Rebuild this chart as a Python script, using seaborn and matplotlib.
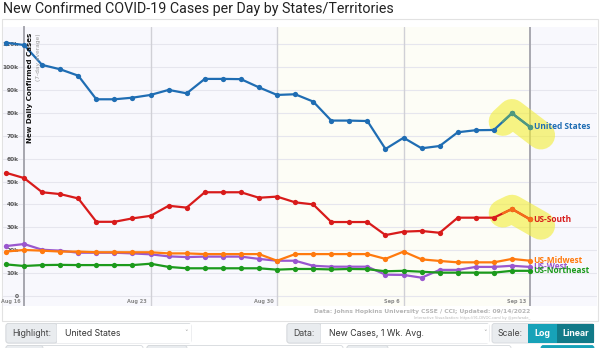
import numpy as np
import pandas as pd
import matplotlib
matplotlib.use("Agg")
import matplotlib.pyplot as plt
from matplotlib.patches import Rectangle, FancyBboxPatch
import seaborn as sns

# ---------------- data (thousands of cases, 7-day avg) ----------------
dates = pd.date_range("2022-08-15", "2022-09-13", freq="D")
us = [110.6, 109.6, 100.9, 99.0, 96.2, 85.9, 85.9, 86.6, 87.8, 90.0,
      88.5, 94.8, 94.8, 94.7, 91.1, 87.8, 88.1, 84.9, 76.6, 76.6,
      76.4, 64.2, 69.1, 64.5, 65.5, 71.5, 72.4, 72.5, 79.8, 73.8]
south = [53.8, 51.5, 45.3, 44.5, 42.6, 32.4, 32.4, 33.9, 35.0, 39.4,
         38.6, 45.3, 45.3, 45.3, 42.9, 43.4, 40.9, 40.0, 32.3, 32.3,
         32.3, 26.6, 28.1, 28.4, 27.6, 34.2, 34.2, 34.2, 38.0, 33.5]
midwest = [19.4, 20.1, 19.8, 19.4, 19.4, 19.1, 19.1, 19.1, 19.1, 18.6,
           18.6, 18.3, 18.3, 18.3, 18.3, 15.4, 18.3, 18.3, 18.3, 18.3,
           18.3, 16.2, 19.4, 16.0, 15.3, 14.7, 14.7, 14.7, 16.2, 15.4]
west = [21.8, 22.7, 20.2, 19.8, 18.9, 18.9, 18.9, 18.6, 18.2, 17.3,
        17.0, 17.2, 17.2, 17.2, 16.2, 15.4, 15.4, 13.2, 12.8, 12.8,
        12.8, 9.3, 9.2, 8.0, 11.4, 11.4, 12.7, 12.7, 13.2, 12.7]
northeast = [13.8, 13.1, 13.5, 13.6, 13.5, 13.5, 13.5, 13.5, 14.1, 12.7,
             12.1, 12.1, 12.1, 12.1, 12.1, 11.5, 11.8, 11.8, 11.6, 11.8,
             11.7, 10.8, 11.0, 10.6, 10.2, 10.2, 10.2, 10.2, 11.0, 11.0]
regions = ["US-West", "US-Northeast", "US-Midwest", "US-South", "United States"]
series = [west, northeast, midwest, south, us]
colors = {"United States": "#1f6db3", "US-South": "#d81b1b",
          "US-Midwest": "#ff7a0e", "US-West": "#9a57cf",
          "US-Northeast": "#1c9a1c"}
x_ticks = ["Aug 16", "Aug 23", "Aug 30", "Sep 6", "Sep 13"]
y_ticks = [0, 10, 20, 30, 40, 50, 60, 70, 80, 90, 100, 110]

day = np.arange(len(dates))  # 0 = Aug 15
rows = []
for r, s in zip(regions, series):
    for d, v in zip(day, s):
        rows.append({"day": d, "cases": v, "region": r})
df = pd.DataFrame(rows)

# ---------------- figure ----------------
sns.set_theme(style="white")
plt.rcParams["font.family"] = ["DejaVu Sans"]
W, H = 600, 348
fig = plt.figure(figsize=(6, 3.48), dpi=100)
fig.patch.set_facecolor("white")

# UI overlay axes in pixel coordinates
ui = fig.add_axes([0, 0, 1, 1], zorder=0)
ui.set_xlim(0, W)
ui.set_ylim(H, 0)
ui.axis("off")

# main plot axes  (pixel x 3..597, y 27..306)
px_per_day = 18.07
x0px = 6.0
def d_of(px):
    return (px - x0px) / px_per_day
pxk = 2.29
def k_of(py):
    return (296 - py) / pxk

left, right, top, bot = 3, 597, 27, 306
ax = fig.add_axes([left / W, 1 - bot / H, (right - left) / W, (bot - top) / H], zorder=1)
ax.set_facecolor("#f8f8fd")
ax.set_xlim(d_of(left), d_of(right))
ax.set_ylim(k_of(bot), k_of(top))

# yellow tinted recent region
ax.axvspan(15, 29, color="#fdfdf6", zorder=0, lw=0)

# grid
for v in y_ticks:
    ax.axhline(v, color="#e6e6ee", lw=0.8, zorder=0.5)
# vertical date lines
for i, d in enumerate([1, 8, 15, 22, 29]):
    if d in (1, 29):
        ax.axvline(d, color="#a8a8b0", lw=1.4, zorder=0.6)
    else:
        ax.axvline(d, color="#d0d0d6", lw=1.0, zorder=0.6)
    ax.text(d - 0.2, k_of(302), x_ticks[i], ha="right", va="center",
            fontsize=3.6, fontweight="bold", color="#8a8a8a")

# highlight blobs
def blob(vals, color):
    xs = [27.5, 28, 29, 29.6]
    ys = [(vals[27] + vals[28]) / 2, vals[28], vals[29],
          vals[29] - 0.6 * (vals[28] - vals[29])]
    ax.plot(xs, ys, color=color, lw=20.5, alpha=0.62, solid_capstyle="round",
            solid_joinstyle="round", zorder=1.5)
blob(us, "#f2ee3c")
blob(south, "#f2ee3c")

# lines
sns.lineplot(data=df, x="day", y="cases", hue="region", palette=colors,
             marker="o", markersize=3.8, markeredgewidth=0, linewidth=1.6,
             legend=False, sort=False, ax=ax, zorder=3)

# recoloured highlighted segments
for vals, c in [(us, "#4f9a7e"), (south, "#f56d18")]:
    xs = [27.5, 28, 29]
    ys = [(vals[27] + vals[28]) / 2, vals[28], vals[29]]
    ax.plot(xs, ys, color=c, lw=1.6, zorder=3.5)
    ax.plot([28, 29], [vals[28], vals[29]], ls="none", marker="o",
            ms=3.8, mew=0, color=c, zorder=3.6)

# end labels
label_font = ["Open Sans", "DejaVu Sans"]
for r, s in zip(regions, series):
    ax.text(29.2, s[-1], r, color=colors[r], fontsize=6.0, fontweight="bold",
            va="center", ha="left", family=label_font, zorder=4)

# y axis at Aug 16
for sp in ["top", "right", "bottom"]:
    ax.spines[sp].set_visible(False)
ax.spines["left"].set_position(("data", 1))
ax.spines["left"].set_color("#a8a8b0")
ax.spines["left"].set_linewidth(1.4)
ax.spines["left"].set_bounds(k_of(305), k_of(top))
ax.set_yticks(y_ticks)
ax.set_yticklabels([f"{v}k" if v else "0" for v in y_ticks])
ax.tick_params(axis="y", direction="out", length=2.5, width=0.6, color="#777",
               pad=1.5, labelsize=4.2, labelcolor="#555")
for t in ax.get_yticklabels():
    t.set_fontweight("bold")
ax.set_xticks([])
ax.set_xlabel("")
ax.set_ylabel("")
ax.text(1.35, k_of(33), "New Daily Confirmed Cases", rotation=90, ha="center",
        va="top", fontsize=5.1, fontweight="bold", color="#111")
ax.text(1.78, k_of(33), "(7-day average)", rotation=90, ha="center",
        va="top", fontsize=4.2, color="#999")

# credits
ax.text(29, k_of(311), "Data: Johns Hopkins University CSSE / CCI; Updated: 09/14/2022",
        ha="right", va="center", fontsize=4.3, fontweight="bold", color="#b5b5b5",
        clip_on=False)
ax.text(29, k_of(317.5), "Interactive Visualization: https://91-DIVOC.com/ by @profwade_",
        ha="right", va="center", fontsize=2.6, color="#b5b5b5", clip_on=False)

# ---------------- title & frame ----------------
ui.text(3, 8.5, "New Confirmed COVID-19 Cases per Day by States/Territories",
        ha="left", va="center", fontsize=10.3, color="#222", family=["Roboto", "DejaVu Sans"])
ui.add_patch(Rectangle((2, 19), 596, 302, fill=False, ec="#e2e2e2", lw=0.8))

# ---------------- controls ----------------
ctrl_font = ["Inter", "DejaVu Sans"]
def box(x0, x1, y0, y1, fc="white", ec="#d5d8dc"):
    ui.add_patch(FancyBboxPatch((x0, y0), x1 - x0, y1 - y0,
                                boxstyle="round,pad=0,rounding_size=2.5",
                                fc=fc, ec=ec, lw=0.6))

# Highlight
box(6, 191, 323.5, 343)
box(6, 57, 323.5, 343, "#e9ecef")
ui.text(31.5, 333.5, "Highlight:", ha="center", va="center", fontsize=6.3,
        color="#444", family=ctrl_font)
ui.add_patch(Rectangle((57, 324), 133.5, 18.5, fc="white", ec="none"))
ui.text(65, 333.5, "United States", ha="left", va="center", fontsize=6.3,
        color="#333", family=ctrl_font)
ui.text(186, 333, "\u02c5", ha="center", va="center", fontsize=5, color="#999")
# Data
box(287, 489, 323.5, 343)
box(287, 321, 323.5, 343, "#e9ecef")
ui.text(304, 333.5, "Data:", ha="center", va="center", fontsize=6.3,
        color="#444", family=ctrl_font)
ui.add_patch(Rectangle((321, 324), 167.5, 18.5, fc="white", ec="none"))
ui.text(329, 333.5, "New Cases, 1 Wk. Avg.", ha="left", va="center", fontsize=6.3,
        color="#333", family=ctrl_font)
ui.text(485, 333, "\u02c5", ha="center", va="center", fontsize=5, color="#999")
# Scale
box(492, 594, 323.5, 343, "#e9ecef")
ui.text(510, 333.5, "Scale:", ha="center", va="center", fontsize=6.3,
        color="#444", family=ctrl_font)
ui.add_patch(Rectangle((528, 323.5), 29, 19.5, fc="#17a2b8", ec="none"))
ui.add_patch(Rectangle((557, 323.5), 37, 19.5, fc="#127a88", ec="none"))
ui.text(542.5, 333.5, "Log", ha="center", va="center", fontsize=6.3,
        color="white", fontweight="bold", family=ctrl_font)
ui.text(575.5, 333.5, "Linear", ha="center", va="center", fontsize=6.3,
        color="white", fontweight="bold", family=ctrl_font)
# second (cut-off) row
for x0, x1 in [(6, 143), (147, 343), (347, 511)]:
    box(x0, x1, 345.5, 352, "white")
for x0, x1 in [(6, 43), (147, 187), (347, 388)]:
    box(x0, x1, 345.5, 352, "#e9ecef")
box(541, 594, 345.5, 352, "#17a2b8", "#17a2b8")

fig.savefig("out.png", dpi=100, facecolor="white")
